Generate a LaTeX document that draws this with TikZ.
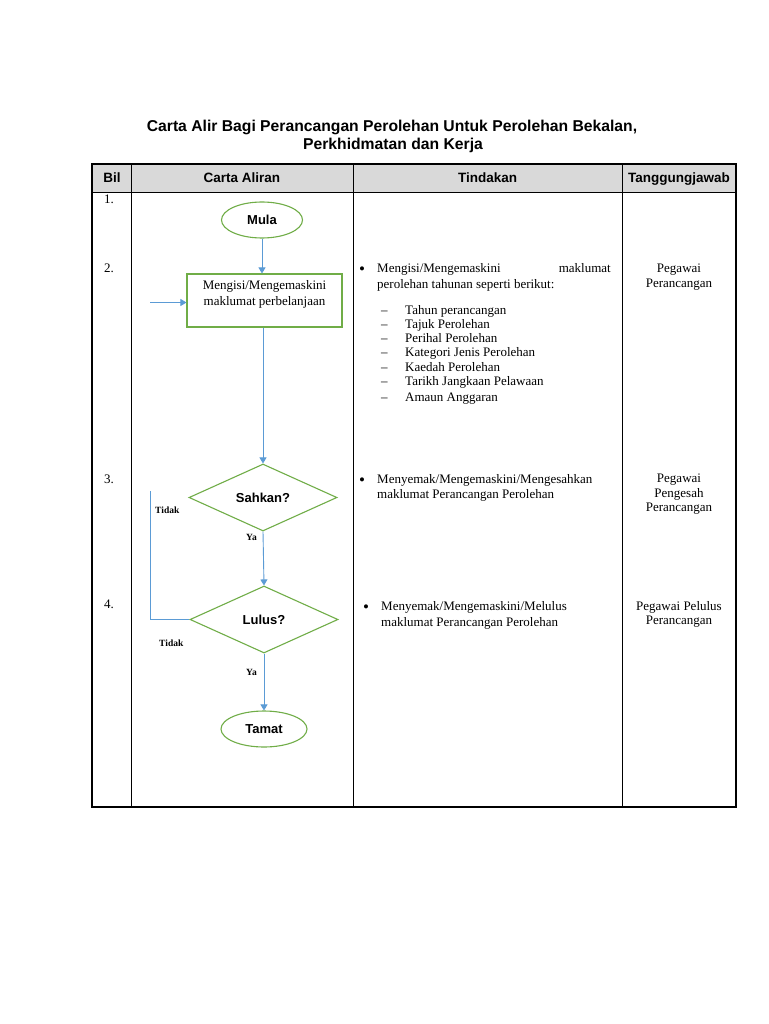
\documentclass[tikz,border=0pt]{standalone}
\usepackage{fontspec}
\setmainfont{Liberation Serif}
\setsansfont{Liberation Sans}
\usetikzlibrary{shapes.geometric,arrows.meta}
\definecolor{flowgreen}{HTML}{70AD47}
\definecolor{flowblue}{HTML}{5B9BD5}
\definecolor{headgray}{HTML}{D9D9D9}
\newcommand{\bodyfont}{\fontsize{13}{14}\selectfont}
\newcommand{\bigdot}{{\fontsize{17}{17}\selectfont\textbullet}}
\tikzset{
	terminal/.style={ellipse,draw=flowgreen,line width=1.1pt,inner sep=0pt,font=\sffamily\bfseries\fontsize{13}{14}\selectfont},
	decision/.style={diamond,draw=flowgreen,line width=1.1pt,inner sep=0pt,minimum width=148pt,minimum height=67pt,font=\sffamily\bfseries\fontsize{13}{14}\selectfont},
	processbox/.style={rectangle,draw=flowgreen,line width=1.1pt,minimum width=155pt,minimum height=53pt},
	flowline/.style={draw=flowblue,line width=0.9pt},
	flowarrow/.style={flowline,-{Triangle[width=7pt,length=6pt]}},
	cell/.style={inner sep=0pt,font=\bodyfont},
	headcell/.style={inner sep=0pt,anchor=base,font=\sffamily\bfseries\fontsize{13.5}{15}\selectfont},
	small/.style={inner sep=0pt,anchor=base west,font=\bfseries\fontsize{9.5}{10}\selectfont}
}
\begin{document}
\begin{tikzpicture}[x=1pt,y=-1pt]
	\useasboundingbox (0,0) rectangle (768,1024);
	\fill[white] (0,0) rectangle (768,1024);
	\node[inner sep=0pt,font=\sffamily\bfseries\fontsize{15.7}{18}\selectfont] (title1) at (392,127.5) {Carta Alir Bagi Perancangan Perolehan Untuk Perolehan Bekalan,};
	\node[inner sep=0pt,font=\sffamily\bfseries\fontsize{15.7}{18}\selectfont] (title2) at (393,145) {Perkhidmatan dan Kerja};
	\fill[headgray] (92,164) rectangle (736,192);
	\draw[line width=1.2pt] (92,164) rectangle (736,807);
	\draw[line width=0.9pt] (92,192) -- (736,192);
	\draw[line width=0.9pt] (131,164) -- (131,807);
	\draw[line width=0.9pt] (353,164) -- (353,807);
	\draw[line width=0.9pt] (622,164) -- (622,807);
	\node[headcell] (hbil) at (112,183) {Bil};
	\node[headcell] (hcarta) at (242,183) {Carta Aliran};
	\node[headcell] (htindakan) at (487.5,183) {Tindakan};
	\node[headcell] (htanggung) at (679,183) {Tanggungjawab};
	\node[cell,anchor=base west] (bil1) at (104,204) {1.};
	\node[cell,anchor=base west] (bil2) at (104,272) {2.};
	\node[cell,anchor=base west] (bil3) at (104,483) {3.};
	\node[cell,anchor=base west] (bil4) at (104,608) {4.};
	\node[terminal,minimum width=81pt,minimum height=36pt] (mula) at (262,220) {Mula};
	\node[processbox] (isi) at (264.5,300.5) {};
	\node[cell,align=center,font=\fontsize{13}{16}\selectfont] (isitext) at ([yshift=6pt]isi.center) {Mengisi/Mengemaskini\\maklumat perbelanjaan};
	\node[decision] (sahkan) at (263,497.5) {Sahkan?};
	\node[decision] (lulus) at (264,619.5) {Lulus?};
	\node[terminal,minimum width=86pt,minimum height=36pt] (tamat) at (264,729) {Tamat};
	\coordinate (masuk) at (150,302.5);
	\coordinate (balik) at (150.7,491);
	\draw[flowarrow] (mula) -- (mula |- isi.north);
	\draw[flowarrow] (masuk) -- (masuk -| isi.west);
	\draw[flowarrow] (isi.south -| sahkan.north) -- (sahkan.north);
	\draw[flowarrow] (sahkan.south) -- (lulus.north);
	\draw[flowarrow] (lulus.south) -- (tamat.north);
	\draw[flowline] (lulus.west) -| (balik);
	\node[small] (tidak1) at (155,513) {Tidak};
	\node[small] (ya1) at (246,540) {Ya};
	\node[small] (tidak2) at (159,646) {Tidak};
	\node[small] (ya2) at (246,675) {Ya};
	\node[cell,anchor=base west] (dot2) at (359,274) {\bigdot};
	\node[cell,anchor=base west] (isi1a) at (377,272) {Mengisi/Mengemaskini};
	\node[cell,anchor=base east] (isi1b) at (611,272) {maklumat};
	\node[cell,anchor=base west] (isi2) at (377,288) {perolehan tahunan seperti berikut:};
	\node[cell,anchor=base west] (d1) at (381,314) {--};
	\node[cell,anchor=base west] (d2) at (381,328) {--};
	\node[cell,anchor=base west] (d3) at (381,342) {--};
	\node[cell,anchor=base west] (d4) at (381,356) {--};
	\node[cell,anchor=base west] (d5) at (381,371) {--};
	\node[cell,anchor=base west] (d6) at (381,385) {--};
	\node[cell,anchor=base west] (d7) at (381,401) {--};
	\node[cell,anchor=base west] (m1) at (405,314) {Tahun perancangan};
	\node[cell,anchor=base west] (m2) at (405,328) {Tajuk Perolehan};
	\node[cell,anchor=base west] (m3) at (405,342) {Perihal Perolehan};
	\node[cell,anchor=base west] (m4) at (405,356) {Kategori Jenis Perolehan};
	\node[cell,anchor=base west] (m5) at (405,371) {Kaedah Perolehan};
	\node[cell,anchor=base west] (m6) at (405,385) {Tarikh Jangkaan Pelawaan};
	\node[cell,anchor=base west] (m7) at (405,401) {Amaun Anggaran};
	\node[cell,anchor=base west] (dot3) at (359,485) {\bigdot};
	\node[cell,anchor=base west] (semak1) at (377,483) {Menyemak/Mengemaskini/Mengesahkan};
	\node[cell,anchor=base west] (semak2) at (377,498) {maklumat Perancangan Perolehan};
	\node[cell,anchor=base west] (dot4) at (363,612) {\bigdot};
	\node[cell,anchor=base west] (lulus1) at (381,610) {Menyemak/Mengemaskini/Melulus};
	\node[cell,anchor=base west] (lulus2) at (381,626) {maklumat Perancangan Perolehan};
	\node[cell,anchor=base] (peg2a) at (679,272) {Pegawai};
	\node[cell,anchor=base] (peg2b) at (679,287) {Perancangan};
	\node[cell,anchor=base] (peg3a) at (679,482) {Pegawai};
	\node[cell,anchor=base] (peg3b) at (679,497) {Pengesah};
	\node[cell,anchor=base] (peg3c) at (679,511) {Perancangan};
	\node[cell,anchor=base] (peg4a) at (679,610) {Pegawai Pelulus};
	\node[cell,anchor=base] (peg4b) at (679,624) {Perancangan};
\end{tikzpicture}
\end{document}
